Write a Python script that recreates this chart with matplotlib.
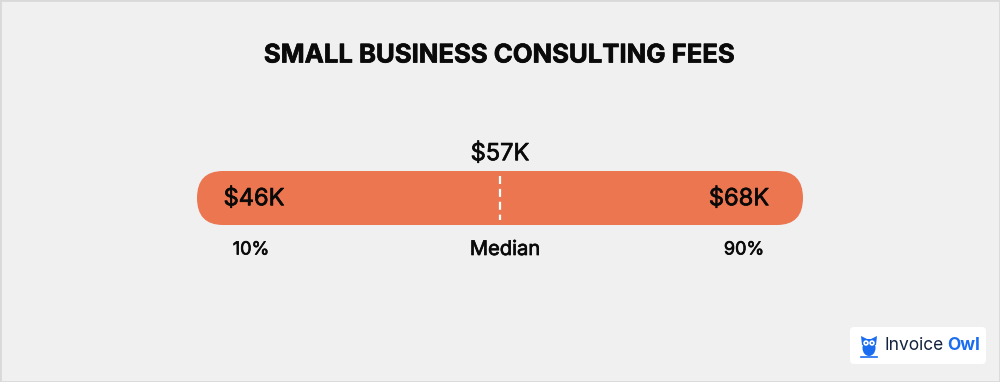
#!/usr/bin/env python3
import matplotlib
matplotlib.use('Agg')
import matplotlib.pyplot as plt
import matplotlib.patheffects as pe
from matplotlib.patches import FancyBboxPatch, Rectangle, Ellipse, Polygon

plt.rcParams['font.family'] = ['Inter', 'DejaVu Sans']

TITLE = 'SMALL BUSINESS CONSULTING FEES'
low, median, high = 46, 57, 68
value_labels = ['$46K', '$57K', '$68K']
pct_labels = ['10%', 'Median', '90%']

BG = '#f0f0f0'
BAR = '#eb7650'
BLUE = '#1a6cf0'
NAVY = '#14233f'
INK = '#0a0a0a'

W, H = 1000, 382
fig = plt.figure(figsize=(W / 100, H / 100), dpi=100, facecolor=BG)

# y runs in pixels; x is in $K, with the bar spanning low..high
ax = fig.add_axes([0, 0, 1, 1])
px = (803 - 197) / (high - low)
ax.set_xlim(low - 197 / px, low + (W - 197) / px)
ax.set_ylim(H, 0)
ax.axis('off')

ax.add_patch(Rectangle((0, 0), 1, 1, transform=ax.transAxes, fc='none', ec='#d9d9d9', lw=2))

# Inter has no medium cut here, so thicken the regular one a little
thick = [pe.withStroke(linewidth=0.5, foreground=INK)]

ax.text(0.5, 56, TITLE, transform=ax.get_yaxis_transform(), ha='center', va='center',
        fontsize=18.5, fontweight='bold', color=INK, path_effects=thick)

# range bar, nearly a pill
rx, ry = 26, 27
ax.add_patch(FancyBboxPatch((low, 171), high - low, 54,
                            boxstyle=f'round,pad=0,rounding_size={rx / px}',
                            mutation_aspect=px * ry / rx, fc=BAR, ec='none'))
ax.plot([median, median], [176, 220], color='white', lw=1.6, dashes=(3.6, 2.2))

ax.text(low + 57 / px, 199, value_labels[0], ha='center', va='center', fontsize=17, color=INK, path_effects=thick)
ax.text(median, 154, value_labels[1], ha='center', va='center', fontsize=17, color=INK, path_effects=thick)
ax.text(high - 64 / px, 199, value_labels[2], ha='center', va='center', fontsize=17, color=INK, path_effects=thick)

ax.text(low + 54 / px, 250, pct_labels[0], ha='center', va='center', fontsize=13, color=INK, path_effects=thick)
ax.text(median + 5 / px, 250, pct_labels[1], ha='center', va='center', fontsize=14.5, color=INK, path_effects=thick)
ax.text(high - 59 / px, 250, pct_labels[2], ha='center', va='center', fontsize=13, color=INK, path_effects=thick)

# logo, in plain pixel coordinates
lg = fig.add_axes([0, 0, 1, 1])
lg.set_xlim(0, W)
lg.set_ylim(H, 0)
lg.axis('off')
lg.patch.set_alpha(0)
lg.add_patch(FancyBboxPatch((850, 327), 136, 37, boxstyle='round,pad=0,rounding_size=4', fc='white', ec='none'))
lg.add_patch(Ellipse((869, 348), 13, 16, fc=BLUE, ec='none'))
lg.add_patch(Polygon([(861, 336), (867, 339), (871, 339), (877, 336), (876, 345), (862, 345)], fc=BLUE, ec='none'))
lg.add_patch(Ellipse((866, 343), 5.5, 5.5, fc='white', ec='none'))
lg.add_patch(Ellipse((872, 343), 5.5, 5.5, fc='white', ec='none'))
lg.add_patch(Ellipse((866, 343), 2, 2, fc=BLUE, ec='none'))
lg.add_patch(Ellipse((872, 343), 2, 2, fc=BLUE, ec='none'))
lg.plot([861, 877], [356.5, 356.5], color=BLUE, lw=1.2)
lg.text(884, 346, 'Invoice', ha='left', va='center', fontsize=12.5, color=NAVY)
lg.text(980, 346, 'Owl', ha='right', va='center', fontsize=12.5, fontweight='bold', color=BLUE)

plt.savefig('out.png', dpi=100, facecolor=BG)
plt.close()
